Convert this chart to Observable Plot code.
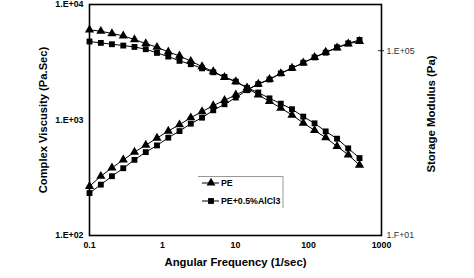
<!DOCTYPE html>
<html>
<head>
<meta charset="utf-8">
<script src="https://cdn.jsdelivr.net/npm/d3@7"></script>
<script src="https://cdn.jsdelivr.net/npm/@observablehq/plot@0.6"></script>
<style>
  html, body { margin: 0; padding: 0; background: #fff; }
  #wrap { position: relative; width: 474px; height: 278px; font-family: "Liberation Sans", Arial, sans-serif; }
  #legend { position: absolute; left: 0; top: 0; pointer-events: none; }
</style>
</head>
<body>
<div id="wrap"></div>
<script>
// Angular frequency (1/sec)
const freq = [0.1, 0.143, 0.203, 0.29, 0.413, 0.59, 0.84, 1.2, 1.71, 2.44, 3.48, 4.96, 7.07, 10.1, 14.4, 20.5, 29.2, 41.7, 59.4, 84.7, 121, 172, 246, 350, 500];
// Complex viscosity (Pa.Sec) — left axis
const viscPE = [6030, 5870, 5610, 5350, 4970, 4590, 4270, 3890, 3590, 3230, 2900, 2630, 2340, 2150, 1900, 1650, 1450, 1270, 1105, 942, 814, 703, 591, 500, 407];
const viscAl = [4780, 4650, 4530, 4410, 4290, 4100, 3810, 3540, 3250, 3040, 2800, 2590, 2360, 2150, 1900, 1730, 1540, 1385, 1240, 1070, 936, 797, 689, 568, 468];
// Storage modulus (Pa) — right axis
const gPE = [116, 192, 291, 434, 638, 905, 1280, 1820, 2500, 3550, 4800, 6480, 8460, 11050, 14400, 18900, 24200, 32200, 42000, 54800, 71600, 93200, 115500, 141000, 160000];
const gAl = [83, 126, 192, 286, 434, 638, 890, 1310, 1820, 2630, 3550, 5130, 6930, 9670, 13960, 18900, 23800, 32200, 42000, 54800, 71600, 90500, 118200, 144300, 170600];

const seriesNames = ["PE", "PE+0.5%AlCl3"];
const xTicks = [0.1, 1, 10, 100, 1000];
const xTickLabels = ["0.1", "1", "10", "100", "1000"];
const leftTicks = [100, 1000, 10000];
const leftTickLabels = ["1.E+02", "1.E+03", "1.E+04"];
const rightTicks = [10, 1000, 100000];
const rightTickLabels = ["1.F+01", "1.E+03", "1.E+05"];

const leftDomain = [100, 10000];
const rightDomain = [10, 1e6];

// map right-axis value onto the left (viscosity) log scale
function toLeft(v) {
  const l0 = Math.log10(leftDomain[0]), l1 = Math.log10(leftDomain[1]);
  const r0 = Math.log10(rightDomain[0]), r1 = Math.log10(rightDomain[1]);
  return Math.pow(10, l0 + (Math.log10(v) - r0) * (l1 - l0) / (r1 - r0));
}

const rows = [];
freq.forEach((f, i) => {
  rows.push({f, y: viscPE[i], s: seriesNames[0], k: "visc"});
  rows.push({f, y: viscAl[i], s: seriesNames[1], k: "visc"});
  rows.push({f, y: toLeft(gPE[i]), s: seriesNames[0], k: "g"});
  rows.push({f, y: toLeft(gAl[i]), s: seriesNames[1], k: "g"});
});
const pe = rows.filter(d => d.s === seriesNames[0]);
const al = rows.filter(d => d.s === seriesNames[1]);

const xLabelMap = new Map(xTicks.map((t, i) => [t, xTickLabels[i]]));
const leftLabelMap = new Map(leftTicks.map((t, i) => [t, leftTickLabels[i]]));
const rightMapped = rightTicks.map(toLeft);
const rightLabelMap = new Map(rightMapped.map((t, i) => [t, rightTickLabels[i]]));

const chart = Plot.plot({
  width: 474,
  height: 278,
  marginLeft: 89,
  marginRight: 93,
  marginTop: 4,
  marginBottom: 43,
  style: {fontFamily: "Liberation Sans, Arial, sans-serif", fontWeight: "bold", background: "#fff", overflow: "visible"},
  x: {type: "log", domain: [0.1, 1000]},
  y: {type: "log", domain: leftDomain},
  marks: [
    Plot.axisX({ticks: xTicks, tickFormat: d => xLabelMap.get(d), tickSize: 0, tickPadding: 6, fontSize: 8.8, label: null}),
    Plot.axisY({ticks: leftTicks, tickFormat: d => leftLabelMap.get(d), tickSize: 0, tickPadding: 6, fontSize: 8.8, label: null}),
    Plot.axisY({anchor: "right", ticks: rightMapped, tickFormat: d => rightLabelMap.get(d), tickSize: 0, tickPadding: 5, fontSize: 8.8, fontWeight: "normal", fill: "#333", label: null}),
    Plot.tickY([rightMapped[2]], {y: d => d, stroke: "#333", strokeWidth: 1}),
    Plot.line(rows.filter(d => d.k === "visc"), {x: "f", y: "y", z: "s", stroke: "black", strokeWidth: 1}),
    Plot.line(rows.filter(d => d.k === "g"), {x: "f", y: "y", z: "s", stroke: "black", strokeWidth: 1}),
    Plot.dot(pe, {x: "f", y: "y", symbol: "triangle", fill: "black", r: 3.4}),
    Plot.dot(al, {x: "f", y: "y", symbol: "square", fill: "black", r: 3.3}),
    Plot.frame({stroke: "black", strokeWidth: 1.6}),
    Plot.text(["Angular Frequency (1/sec)"], {frameAnchor: "bottom", dy: 27, text: d => d, fontSize: 11.3, textAnchor: "middle", lineAnchor: "middle", fill: "black"}),
    Plot.text(["Complex Viscusity (Pa.Sec)"], {frameAnchor: "left", dx: -46, dy: 0, rotate: -90, text: d => d, fontSize: 11.2, textAnchor: "middle", lineAnchor: "middle", fill: "black"}),
    Plot.text(["Storage Modulus (Pa)"], {frameAnchor: "right", dx: 50, dy: -6, rotate: -90, text: d => d, fontSize: 11.4, textAnchor: "middle", lineAnchor: "middle", fill: "black"})
  ]
});

// keep only a short tick segment crossing the right frame edge
d3.select(chart).selectAll("g[aria-label='tick'] line").attr("x1", 378).attr("x2", 384);

const wrap = document.getElementById("wrap");
wrap.appendChild(chart);

// legend overlay
const lg = d3.select(wrap).append("svg").attr("id", "legend").attr("width", 474).attr("height", 278);
lg.append("line").attr("x1", 198).attr("x2", 283).attr("y1", 176.5).attr("y2", 176.5).attr("stroke", "#999").attr("stroke-width", 1);
lg.append("line").attr("x1", 283).attr("x2", 283).attr("y1", 176).attr("y2", 208).attr("stroke", "#999").attr("stroke-width", 1);
const sym = [d3.symbolTriangle, d3.symbolSquare];
seriesNames.forEach((name, i) => {
  const y = 183 + i * 18;
  lg.append("line").attr("x1", 202).attr("x2", 219).attr("y1", y).attr("y2", y).attr("stroke", "black").attr("stroke-width", 1);
  lg.append("path").attr("d", d3.symbol(sym[i], Math.PI * 3.3 * 3.3)()).attr("transform", `translate(211,${y})`).attr("fill", "black");
  lg.append("text").attr("x", 221).attr("y", y).attr("dy", "0.35em").attr("font-size", 8.8).attr("font-weight", "bold")
    .attr("font-family", "Liberation Sans, Arial, sans-serif").text(name);
});
</script>
</body>
</html>
